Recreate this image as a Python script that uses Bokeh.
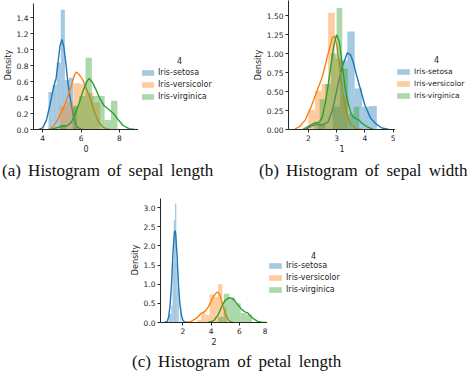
from bokeh.plotting import figure
from bokeh.models import Range1d, Legend, LegendItem, FixedTicker, Div, Spacer, NumeralTickFormatter, Label
from bokeh.layouts import column, row
from bokeh.embed import file_html
from bokeh.resources import INLINE

species = ["Iris-setosa", "Iris-versicolor", "Iris-virginica"]
colors = ["#1f77b4", "#ff7f0e", "#2ca02c"]
legend_title = "4"

# ---------------- (a) sepal length (column 0) ----------------
a_setosa_edges = [4.3, 4.514, 4.729, 4.943, 5.157, 5.371, 5.586, 5.8]
a_setosa_dens = [0.47, 0.56, 0.84, 1.50, 0.62, 0.65, 0.28]
a_versicolor_edges = [4.9, 5.25, 5.6, 5.95, 6.3, 6.65, 7.0]
a_versicolor_dens = [0.29, 0.34, 0.58, 0.57, 0.46, 0.34]
a_virginica_edges = [4.9, 5.233, 5.567, 5.9, 6.233, 6.567, 6.9, 7.233, 7.567, 7.9]
a_virginica_dens = [0.06, 0.0, 0.30, 0.42, 0.90, 0.42, 0.42, 0.12, 0.36]

a_setosa_kde_x = [3.8, 4.0, 4.2, 4.4, 4.5, 4.6, 4.7, 4.8, 4.9, 5.0, 5.1, 5.2, 5.3, 5.4, 5.5, 5.6, 5.7, 5.8, 6.0, 6.2]
a_setosa_kde_y = [0.0, 0.02, 0.12, 0.33, 0.45, 0.56, 0.64, 0.84, 1.04, 1.13, 1.04, 0.85, 0.62, 0.45, 0.3, 0.17, 0.08, 0.03, 0.005, 0.0]
a_versicolor_kde_x = [4.3, 4.5, 4.7, 4.9, 5.1, 5.3, 5.5, 5.65, 5.75, 5.9, 6.1, 6.3, 6.5, 6.7, 6.9, 7.1, 7.3, 7.5]
a_versicolor_kde_y = [0.0, 0.03, 0.09, 0.18, 0.28, 0.40, 0.55, 0.68, 0.72, 0.69, 0.62, 0.50, 0.38, 0.22, 0.10, 0.04, 0.01, 0.0]
a_virginica_kde_x = [4.4, 4.7, 5.0, 5.3, 5.5, 5.7, 5.9, 6.1, 6.3, 6.42, 6.6, 6.8, 7.0, 7.2, 7.45, 7.7, 7.95, 8.2, 8.5, 8.8]
a_virginica_kde_y = [0.0, 0.02, 0.04, 0.05, 0.09, 0.20, 0.33, 0.48, 0.60, 0.64, 0.59, 0.49, 0.38, 0.30, 0.25, 0.20, 0.12, 0.05, 0.01, 0.0]

a_xticks = [4, 6, 8]
a_yticks = [0.0, 0.2, 0.4, 0.6, 0.8, 1.0, 1.2, 1.4]
a_xlabel = "0"

# ---------------- (b) sepal width (column 1) ----------------
b_setosa_edges = [2.34, 2.6, 2.86, 3.12, 3.38, 3.64, 3.9, 4.16, 4.42]
b_setosa_dens = [0.08, 0.0, 0.30, 0.91, 1.29, 0.54, 0.30, 0.31]
b_versicolor_edges = [2.0, 2.233, 2.467, 2.7, 2.933, 3.167, 3.4]
b_versicolor_dens = [0.26, 0.51, 0.60, 1.54, 0.94, 0.43]
b_virginica_edges = [2.2, 2.4, 2.6, 2.8, 3.0, 3.2, 3.4, 3.6, 3.8]
b_virginica_dens = [0.10, 0.40, 0.60, 1.00, 1.60, 0.80, 0.20, 0.30]

b_setosa_kde_x = [1.9, 2.1, 2.3, 2.5, 2.7, 2.85, 2.95, 3.05, 3.2, 3.38, 3.5, 3.6, 3.7, 3.85, 4.0, 4.2, 4.4, 4.6, 4.85]
b_setosa_kde_y = [0.0, 0.04, 0.07, 0.06, 0.10, 0.25, 0.42, 0.60, 0.83, 1.01, 0.98, 0.87, 0.72, 0.52, 0.32, 0.15, 0.07, 0.02, 0.0]
b_versicolor_kde_x = [1.5, 1.7, 1.9, 2.1, 2.3, 2.5, 2.7, 2.85, 2.92, 3.0, 3.1, 3.2, 3.3, 3.4, 3.5, 3.7, 3.9]
b_versicolor_kde_y = [0.0, 0.04, 0.13, 0.30, 0.50, 0.70, 1.00, 1.21, 1.23, 1.13, 0.85, 0.52, 0.30, 0.15, 0.07, 0.01, 0.0]
b_virginica_kde_x = [1.8, 2.0, 2.2, 2.4, 2.5, 2.6, 2.7, 2.8, 2.9, 3.0, 3.1, 3.2, 3.3, 3.4, 3.5, 3.6, 3.7, 3.8, 3.9, 4.1, 4.3]
b_virginica_kde_y = [0.0, 0.04, 0.08, 0.10, 0.17, 0.35, 0.58, 0.85, 1.10, 1.25, 1.15, 0.85, 0.55, 0.36, 0.22, 0.16, 0.14, 0.12, 0.08, 0.03, 0.0]

b_xticks = [2, 3, 4, 5]
b_yticks = [0.0, 0.25, 0.5, 0.75, 1.0, 1.25, 1.5]
b_xlabel = "1"

# ---------------- (c) petal length (column 2) ----------------
c_setosa_edges = [1.0, 1.09, 1.18, 1.27, 1.36, 1.45, 1.54, 1.63, 1.72, 1.81, 1.9]
c_setosa_dens = [0.22, 0.22, 0.44, 1.56, 2.67, 3.11, 1.56, 0.89, 0.0, 0.44]
c_versicolor_edges = [3.0, 3.3, 3.6, 3.9, 4.2, 4.5, 4.8, 5.1]
c_versicolor_dens = [0.07, 0.27, 0.20, 0.73, 0.67, 1.00, 0.40]
c_virginica_edges = [4.5, 4.9, 5.3, 5.7, 6.1, 6.5, 6.9]
c_virginica_dens = [0.15, 0.75, 0.65, 0.50, 0.25, 0.20]

c_setosa_kde_x = [0.7, 0.9, 1.0, 1.1, 1.2, 1.3, 1.4, 1.45, 1.5, 1.6, 1.7, 1.8, 1.9, 2.0, 2.1, 2.3]
c_setosa_kde_y = [0.0, 0.03, 0.15, 0.45, 1.0, 1.8, 2.33, 2.4, 2.3, 1.7, 0.95, 0.45, 0.2, 0.07, 0.02, 0.0]
c_versicolor_kde_x = [2.2, 2.6, 3.0, 3.3, 3.6, 3.8, 4.0, 4.2, 4.45, 4.6, 4.8, 5.0, 5.2, 5.4, 5.6]
c_versicolor_kde_y = [0.0, 0.03, 0.12, 0.24, 0.30, 0.40, 0.55, 0.70, 0.80, 0.74, 0.50, 0.25, 0.08, 0.02, 0.0]
c_virginica_kde_x = [3.8, 4.2, 4.5, 4.8, 5.0, 5.3, 5.5, 5.7, 5.9, 6.2, 6.4, 6.6, 6.8, 7.0, 7.3, 7.6, 7.9]
c_virginica_kde_y = [0.0, 0.05, 0.2, 0.45, 0.58, 0.65, 0.63, 0.56, 0.46, 0.33, 0.28, 0.25, 0.17, 0.10, 0.03, 0.01, 0.0]

c_xticks = [2, 4, 6, 8]
c_yticks = [0.0, 0.5, 1.0, 1.5, 2.0, 2.5, 3.0]
c_xlabel = "2"

captions = ["(a) Histogram of sepal length", "(b) Histogram of sepal width", "(c) Histogram of petal length"]

TXT = "#262626"
FONT = "DejaVu Sans"


def panel(width, height, bl, bt, bb, xr, yr, yaxis_end, xticks, yticks, yfmt, xlabel, hists, kdes):
    p = figure(width=width, height=height, x_range=Range1d(*xr), y_range=Range1d(*yr),
               output_backend="svg", toolbar_location=None,
               min_border_left=bl, min_border_right=0, min_border_top=bt, min_border_bottom=bb)
    p.outline_line_color = None
    p.xgrid.visible = False
    p.ygrid.visible = False
    for (edges, dens), (kx, ky), col in zip(hists, kdes, colors):
        p.quad(left=edges[:-1], right=edges[1:], top=dens, bottom=[0] * len(dens),
               fill_color=col, fill_alpha=0.4, line_color=None)
        p.line(kx, ky, line_color=col, line_width=1.4)
    for ax in (p.xaxis[0], p.yaxis[0]):
        ax.axis_line_color = TXT
        ax.major_tick_line_color = TXT
        ax.minor_tick_line_color = None
        ax.major_tick_out = 3
        ax.major_tick_in = 0
        ax.major_label_standoff = 2
        ax.axis_label_standoff = 1
        ax.major_label_text_font = FONT
        ax.major_label_text_font_size = "7.5px"
        ax.major_label_text_color = TXT
        ax.axis_label_text_font = FONT
        ax.axis_label_text_font_size = "8px"
        ax.axis_label_text_font_style = "normal"
        ax.axis_label_text_color = TXT
    p.yaxis.bounds = (yr[0], yaxis_end)
    p.xaxis.ticker = FixedTicker(ticks=xticks)
    p.xaxis.formatter = NumeralTickFormatter(format="0")
    p.yaxis.ticker = FixedTicker(ticks=yticks)
    p.yaxis.formatter = NumeralTickFormatter(format=yfmt)
    p.xaxis.axis_label = xlabel
    p.yaxis.axis_label = "Density"
    return p


def legend_box(width, height, hists, loc, title_xy, leg_font, glyph_w):
    # the same histogram data, drawn outside this box's visible range: only the legend shows
    q = figure(width=width, height=height, x_range=Range1d(-2, -1), y_range=Range1d(-2, -1),
               output_backend="svg", toolbar_location=None,
               x_axis_location=None, y_axis_location=None, min_border=0)
    q.outline_line_color = None
    q.xgrid.visible = False
    q.ygrid.visible = False
    items = []
    for (edges, dens), col, name in zip(hists, colors, species):
        r = q.quad(left=edges[:-1], right=edges[1:], top=dens, bottom=[0] * len(dens),
                   fill_color=col, fill_alpha=0.4, line_color=None)
        items.append(LegendItem(label=name, renderers=[r]))
    leg = Legend(items=items, location=loc,
                 border_line_color=None, background_fill_alpha=0,
                 margin=0, padding=3, spacing=0,
                 glyph_width=glyph_w, glyph_height=7, label_height=12,
                 label_standoff=3,
                 label_text_font=FONT, label_text_font_size=leg_font,
                 label_text_color=TXT)
    q.add_layout(leg)
    q.add_layout(Label(x=title_xy[0], y=title_xy[1], x_units="screen", y_units="screen",
                       text=legend_title, text_align="center", text_baseline="middle",
                       text_font=FONT, text_font_size="8px", text_color=TXT))
    return q


a_hists = [(a_setosa_edges, a_setosa_dens), (a_versicolor_edges, a_versicolor_dens),
           (a_virginica_edges, a_virginica_dens)]
b_hists = [(b_setosa_edges, b_setosa_dens), (b_versicolor_edges, b_versicolor_dens),
           (b_virginica_edges, b_virginica_dens)]
c_hists = [(c_setosa_edges, c_setosa_dens), (c_versicolor_edges, c_versicolor_dens),
           (c_virginica_edges, c_virginica_dens)]

pa = panel(138, 154, 28, 0, 24, (3.52, 9.0), (0, 1.617), 1.58,
           a_xticks, a_yticks, "0.0", a_xlabel, a_hists,
           [(a_setosa_kde_x, a_setosa_kde_y), (a_versicolor_kde_x, a_versicolor_kde_y),
            (a_virginica_kde_x, a_virginica_kde_y)])
la = legend_box(112, 154, a_hists, (2, 27), (41, 69), "8px", 15)

pb = panel(145, 154, 38, 0, 24, (1.3, 5.08), (0, 1.70), 1.70,
           b_xticks, b_yticks, "0.00", b_xlabel, b_hists,
           [(b_setosa_kde_x, b_setosa_kde_y), (b_versicolor_kde_x, b_versicolor_kde_y),
            (b_virginica_kde_x, b_virginica_kde_y)])
lb = legend_box(79, 154, b_hists, (0, 28), (41, 70), "7.5px", 16)

pc = panel(140, 162, 30, 9, 28, (0.42, 8.0), (0, 3.264), 3.25,
           c_xticks, c_yticks, "0.0", c_xlabel, c_hists,
           [(c_setosa_kde_x, c_setosa_kde_y), (c_versicolor_kde_x, c_versicolor_kde_y),
            (c_virginica_kde_x, c_virginica_kde_y)])
lc = legend_box(100, 162, c_hists, (0, 27), (46, 67), "8px", 16)


def caption(text, w, h, pad):
    return Div(text=text, width=w, height=h, margin=0,
               styles={"font-family": "'Liberation Serif', serif", "font-size": "17px",
                       "word-spacing": "3px", "white-space": "nowrap",
                       "line-height": f"{h}px", "color": "#111", "padding-left": f"{pad}px"})


cap_a = caption(captions[0], 257, 34, 2)
cap_b = caption(captions[1], 217, 34, 2)
cap_c = caption(captions[2], 474, 24, 132)

layout = column(row(pa, la, pb, lb), row(cap_a, cap_b),
                row(Spacer(width=127, height=162, margin=0), pc, lc), cap_c)

open("out.html", "w").write(file_html(layout, INLINE))
